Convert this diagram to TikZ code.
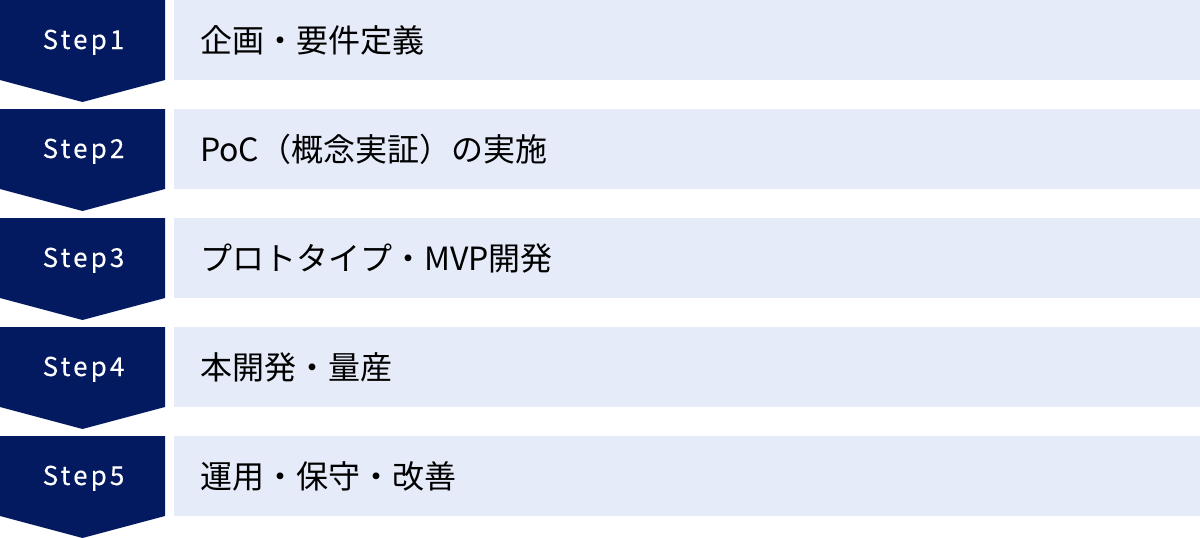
\documentclass[tikz,border=0pt]{standalone}
\usepackage{fontspec}
\setmainfont{Noto Sans CJK JP}
\newfontfamily\stepfont[LetterSpace=12, FakeBold=0.2]{Noto Sans CJK JP}
\definecolor{stepnavy}{HTML}{041A60}
\definecolor{bandblue}{HTML}{E5EBF8}

\begin{document}
\begin{tikzpicture}[x=1pt, y=-1pt,
    chevron/.style={fill=stepnavy},
    band/.style={fill=bandblue},
    steplabel/.style={anchor=base, inner sep=0pt, text=white,
      font=\stepfont\fontsize{26}{26}\selectfont},
    bandtext/.style={anchor=base west, inner sep=0pt,
      font=\fontsize{32}{32}\selectfont}]
   \useasboundingbox (0, 0) rectangle (1200, 538);
   % Step1
   \fill [chevron] (0, 0) -- (165, 0) -- (165, 80) -- (82.5, 102) -- (0, 80) -- cycle;
   \fill [band] (174, 0) rectangle (1200, 80);
   \node [steplabel] (step1) at (83.5, 49) {Step1};
   \node [bandtext] (task1) at (200, 52) {企画・要件定義};
   % Step2
   \fill [chevron] (0, 109) -- (165, 109) -- (165, 189) -- (82.5, 211) -- (0, 189) -- cycle;
   \fill [band] (174, 109) rectangle (1200, 189);
   \node [steplabel] (step2) at (83.5, 158) {Step2};
   \node [bandtext] (task2) at (200, 161) {PoC（概念実証）の実施};
   % Step3
   \fill [chevron] (0, 218) -- (165, 218) -- (165, 298) -- (82.5, 320) -- (0, 298) -- cycle;
   \fill [band] (174, 218) rectangle (1200, 298);
   \node [steplabel] (step3) at (83.5, 267) {Step3};
   \node [bandtext] (task3) at (200, 270) {プロトタイプ・MVP開発};
   % Step4
   \fill [chevron] (0, 327) -- (165, 327) -- (165, 407) -- (82.5, 429) -- (0, 407) -- cycle;
   \fill [band] (174, 327) rectangle (1200, 407);
   \node [steplabel] (step4) at (83.5, 376) {Step4};
   \node [bandtext] (task4) at (200, 379) {本開発・量産};
   % Step5
   \fill [chevron] (0, 436) -- (165, 436) -- (165, 516) -- (82.5, 538) -- (0, 516) -- cycle;
   \fill [band] (174, 436) rectangle (1200, 516);
   \node [steplabel] (step5) at (83.5, 485) {Step5};
   \node [bandtext] (task5) at (200, 488) {運用・保守・改善};
\end{tikzpicture}
\end{document}
